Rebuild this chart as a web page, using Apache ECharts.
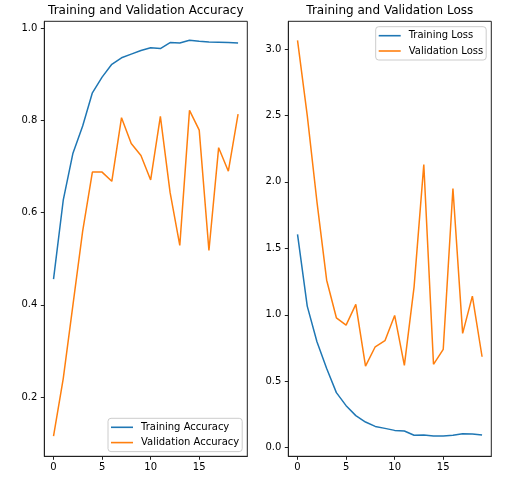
<!DOCTYPE html>
<html>
<head>
<meta charset="utf-8">
<script src="https://cdn.jsdelivr.net/npm/echarts@6/dist/echarts.min.js"></script>
<style>
html, body { margin: 0; padding: 0; background: #fff; }
#main { width: 521px; height: 490px; }
</style>
</head>
<body>
<div id="main"></div>
<script>
var myChart = echarts.init(document.getElementById('main'));

// epochs
var epochs = [0, 1, 2, 3, 4, 5, 6, 7, 8, 9, 10, 11, 12, 13, 14, 15, 16, 17, 18, 19];

var trainAcc = [0.456, 0.627, 0.729, 0.788, 0.860, 0.894, 0.922, 0.936, 0.944, 0.952,
                0.958, 0.956, 0.969, 0.968, 0.974, 0.972, 0.9705, 0.970, 0.969, 0.968];
var valAcc = [0.115, 0.240, 0.400, 0.560, 0.688, 0.688, 0.668, 0.806, 0.750, 0.724,
              0.671, 0.809, 0.644, 0.529, 0.822, 0.779, 0.518, 0.741, 0.690, 0.814];

var trainLoss = [1.605, 1.065, 0.797, 0.596, 0.414, 0.316, 0.241, 0.193, 0.160, 0.145,
                 0.130, 0.125, 0.093, 0.095, 0.088, 0.088, 0.093, 0.105, 0.103, 0.095];
var valLoss = [3.065, 2.50, 1.85, 1.26, 0.977, 0.922, 1.078, 0.614, 0.759, 0.805,
               0.995, 0.619, 1.21, 2.13, 0.627, 0.739, 1.95, 0.86, 1.14, 0.684];

var xTicks = [0, 5, 10, 15];
var accTicks = [0.2, 0.4, 0.6, 0.8, 1.0];
var lossTicks = [0, 0.5, 1.0, 1.5, 2.0, 2.5, 3.0];

function pairs(ys) {
    var out = [];
    for (var i = 0; i < ys.length; i++) out.push([epochs[i], ys[i]]);
    return out;
}

var FONT = 'DejaVu Sans';
var axisCol = '#222';

function xAxisCfg(gridIndex) {
    return {
        type: 'value', gridIndex: gridIndex, min: -0.95, max: 19.95,
        axisLine: {show: true, onZero: false, lineStyle: {color: axisCol, width: 1}},
        axisTick: {show: true, length: 3.5, customValues: xTicks, lineStyle: {color: axisCol, width: 1}},
        axisLabel: {customValues: xTicks, margin: 6, color: '#000', fontFamily: FONT, fontSize: 10},
        splitLine: {show: false}
    };
}
function yAxisCfg(gridIndex, min, max, ticks) {
    return {
        type: 'value', gridIndex: gridIndex, min: min, max: max,
        axisLine: {show: true, onZero: false, lineStyle: {color: axisCol, width: 1}},
        axisTick: {show: true, length: 3.5, customValues: ticks, lineStyle: {color: axisCol, width: 1}},
        axisLabel: {customValues: ticks, margin: 7, color: '#000', fontFamily: FONT, fontSize: 10,
                    formatter: function (v) { return v.toFixed(1); }},
        splitLine: {show: false}
    };
}

function legendCfg(names, left, top) {
    return {
        orient: 'vertical', left: left, top: top,
        data: names,
        icon: 'rect',
        itemWidth: 22, itemHeight: 1.6, itemGap: 3.3,
        padding: [3, 3, 3, 3],
        backgroundColor: 'rgba(255,255,255,0.8)',
        borderColor: '#cccccc', borderWidth: 1, borderRadius: 3,
        textStyle: {fontFamily: FONT, fontSize: 10, color: '#000', lineHeight: 12, padding: [0, 0, 0, 3]}
    };
}

function lineSeries(name, color, xi, ys) {
    return {
        name: name, type: 'line', xAxisIndex: xi, yAxisIndex: xi,
        data: pairs(ys), symbol: 'none', showSymbol: false,
        lineStyle: {color: color, width: 1.5}, itemStyle: {color: color},
        z: name.indexOf('Validation') === 0 ? 3 : 2
    };
}

myChart.setOption({
    animation: false,
    backgroundColor: '#fff',
    textStyle: {fontFamily: FONT},
    title: [
        {text: 'Training and Validation Accuracy', left: 145.8, top: 5, textAlign: 'center', padding: 0,
         textStyle: {fontFamily: FONT, fontSize: 12, fontWeight: 'normal', color: '#000'}},
        {text: 'Training and Validation Loss', left: 389.8, top: 5, textAlign: 'center', padding: 0,
         textStyle: {fontFamily: FONT, fontSize: 12, fontWeight: 'normal', color: '#000'}}
    ],
    legend: [
        legendCfg(['Training Accuracy', 'Validation Accuracy'], 108, 418.3),
        legendCfg(['Training Loss', 'Validation Loss'], 375.7, 26.7)
    ],
    grid: [
        {left: 44.3, top: 21.3, width: 203, height: 435, show: true, borderColor: axisCol, borderWidth: 1},
        {left: 288.3, top: 21.3, width: 203, height: 435, show: true, borderColor: axisCol, borderWidth: 1}
    ],
    xAxis: [xAxisCfg(0), xAxisCfg(1)],
    yAxis: [yAxisCfg(0, 0.0714, 1.0152, accTicks), yAxisCfg(1, -0.065, 3.208, lossTicks)],
    series: [
        lineSeries('Training Accuracy', '#1f77b4', 0, trainAcc),
        lineSeries('Validation Accuracy', '#ff7f0e', 0, valAcc),
        lineSeries('Training Loss', '#1f77b4', 1, trainLoss),
        lineSeries('Validation Loss', '#ff7f0e', 1, valLoss)
    ]
});
window.onresize = myChart.resize;
</script>
</body>
</html>
